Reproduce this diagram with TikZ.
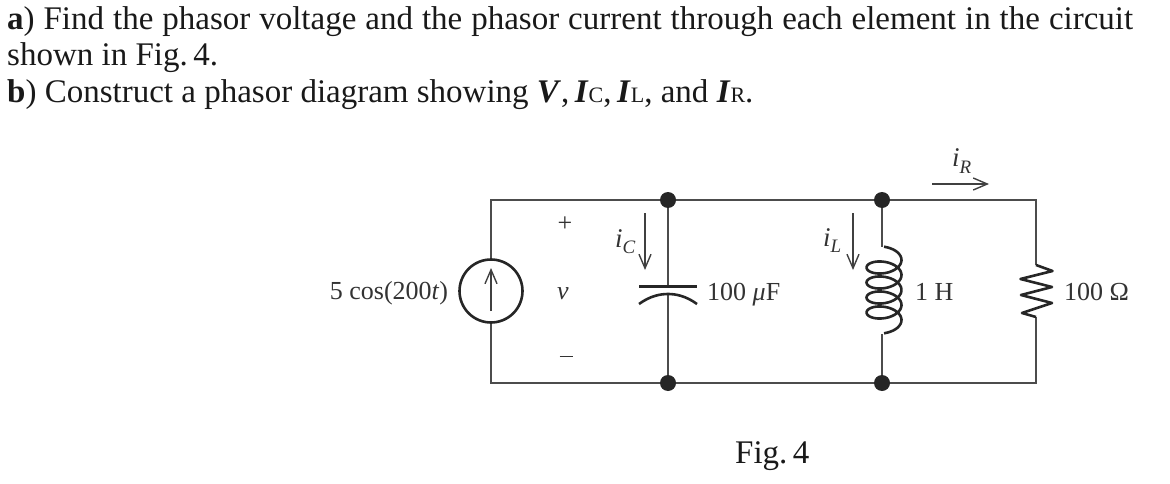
\documentclass[tikz,border=0pt]{standalone}
\usepackage{fontspec}
\setmainfont{Liberation Serif}
\usetikzlibrary{arrows.meta}
\tikzset{
  wire/.style={draw=black!70,line width=1.8pt},
  comp/.style={draw=black!85,line width=2.6pt,line join=round},
  dot/.style={circle,fill=black!85,draw=none,minimum size=16pt,inner sep=0pt},
  cur/.style={draw=black!75,line width=1.4pt,-{Straight Barb[length=14pt,width=12pt]}},
  titletext/.style={anchor=base west,inner sep=0pt,font=\fontsize{33}{38}\selectfont,text=black!90},
  lab/.style={anchor=base,inner sep=0pt,font=\fontsize{26}{28}\selectfont,text=black!80},
  ilab/.style={anchor=base west,inner sep=0pt,font=\fontsize{27}{28}\selectfont,text=black!80},
}
\newcommand{\subl}[1]{{\fontsize{22}{24}\selectfont #1}}
\newcommand{\subi}[1]{{\fontsize{19}{20}\selectfont\raisebox{-6pt}{\textit{#1}}}}
\begin{document}
\begin{tikzpicture}[x=1pt,y=-1pt]
\useasboundingbox (0,0) rectangle (1170,484);
% title text
\node[titletext] (t1) at (7,30) {\hbox to 1126pt{\textbf{a})\ Find the phasor voltage and the phasor current through each element in the circuit}};
\node[titletext] (t2) at (7,66) {shown in Fig.\,4.};
\node[titletext] (t3) at (7,103) {\textbf{b})\ Construct a phasor diagram showing \textbf{\textit{V}},\,\textbf{\textit{I}}\subl{C},\,\textbf{\textit{I}}\subl{L}, and \textbf{\textit{I}}\subl{R}.};
% junctions
\coordinate (tl) at (491,200);
\coordinate (bl) at (491,383);
\coordinate (tr) at (1036,200);
\coordinate (br) at (1036,383);
\node[dot] (n1) at (668,200) {};
\node[dot] (n2) at (882,200) {};
\node[dot] (n3) at (668,383) {};
\node[dot] (n4) at (882,383) {};
% source
\node[circle,draw=black!85,line width=2.6pt,minimum size=63pt,inner sep=0pt] (src) at (491,291) {};
\draw[wire,line join=miter] (src.north) -- (tl) -- (n1) -- (n2) -- (tr) -- (1036,265);
\draw[wire,line join=miter] (src.south) -- (bl) -- (n3) -- (n4) -- (br) -- (1036,317);
\coordinate (sa) at (491,311);
\coordinate (sb) at (491,268);
\draw[cur] (sa) -- (sb);
% capacitor
\coordinate (c1) at (668,286);
\coordinate (c2) at (668,294);
\draw[wire] (n1) -- (c1);
\draw[wire] (c2) -- (n3);
\draw[comp,line width=3pt] (639,286) -- (697,286);
\draw[comp] (639,304) .. controls (650,296) and (660,294) .. (c2) .. controls (676,294) and (686,296) .. (697,304);
% inductor
\coordinate (l1) at (882,247);
\coordinate (l2) at (882,334);
\draw[wire] (n2) -- (l1);
\draw[wire] (l2) -- (n4);
\draw[comp,smooth,samples=160,domain=0:1620,variable=\t] plot ({884+17.5*sin(\t)},{256.25+\t/24-9.5*cos(\t)});
% resistor
\draw[comp] (1036,265) -- (1052.5,271) -- (1020.5,279) -- (1052,287) -- (1021,295) -- (1052,303) -- (1022,313) -- (1036,317);
% current arrows
\coordinate (ica) at (645,213);
\coordinate (icb) at (645,270);
\draw[cur] (ica) -- (icb);
\coordinate (ila) at (853,213);
\coordinate (ilb) at (853,270);
\draw[cur] (ila) -- (ilb);
\coordinate (ira) at (932,184);
\coordinate (irb) at (989,184);
\draw[cur] (ira) -- (irb);
% labels
\node[lab] (ls) at (389,299) {5 cos(200\textit{t})};
\node[lab] (lp) at (565,231) {+};
\node[lab] (lv) at (563,299) {\textit{v}};
\node[lab] (lm) at (566,363) {\rule[6pt]{13pt}{1.2pt}};
\node[ilab] (lic) at (615,247) {\textit{i}\subi{C}};
\node[ilab] (lil) at (823,246) {\textit{i}\subi{L}};
\node[ilab] (lir) at (952,167) {\textit{i}\subi{R}};
\node[lab,anchor=base west] (lcv) at (707,300) {100 \textit{μ}F};
\node[lab,anchor=base west] (llv) at (915,300) {1 H};
\node[lab,anchor=base west] (lrv) at (1064,300) {100 Ω};
\node[titletext] (fig) at (735,463) {Fig.\,4};
\end{tikzpicture}
\end{document}
